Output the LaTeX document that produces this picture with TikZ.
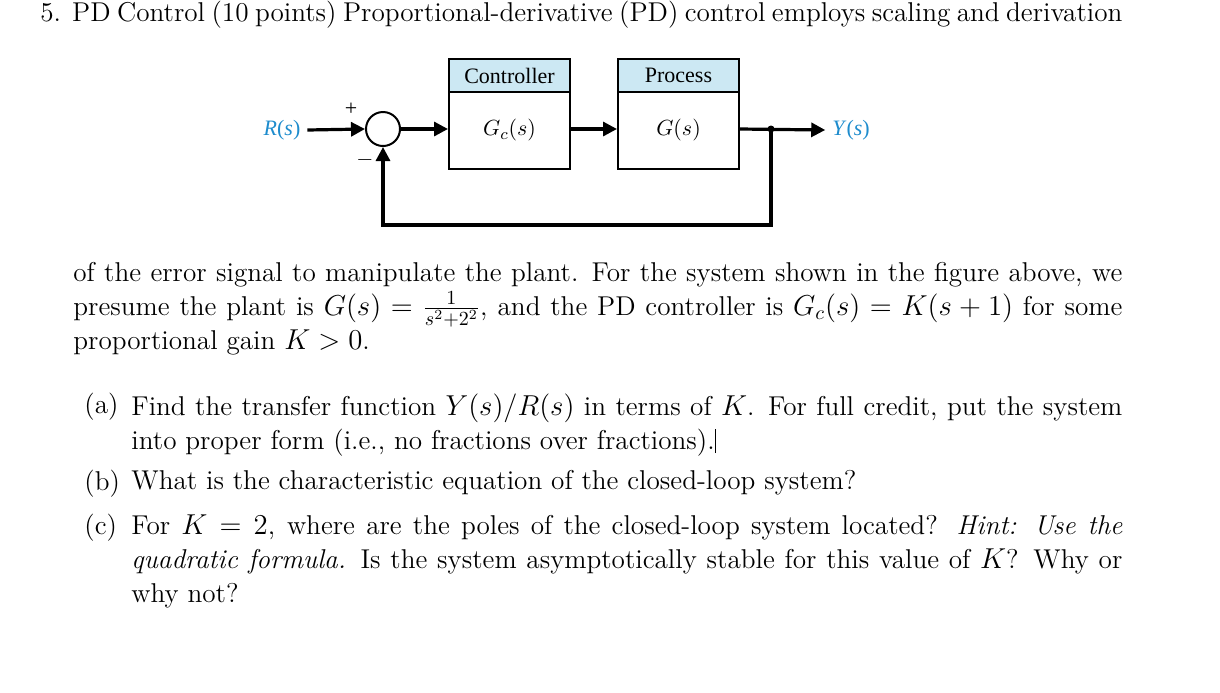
\documentclass[tikz,border=0pt]{standalone}
\usepackage{amsmath}
\usepackage{fontspec}
\newfontfamily\dfont{Liberation Serif}
\usetikzlibrary{arrows.meta}
\definecolor{hdr}{RGB}{204,232,243}
\definecolor{sig}{RGB}{30,140,205}
\tikzset{
  blk/.style={draw,line width=1pt,minimum width=60.5pt,inner sep=0pt},
  wire/.style={line width=1.6pt},
  arr/.style={wire,-{Triangle[length=7pt,width=7pt]}},
  body/.style={anchor=north west,inner sep=0pt,align=justify,font=\fontsize{13.6}{17}\selectfont},
  dlab/.style={font=\dfont\fontsize{11}{13}\selectfont}
}
\begin{document}
\begin{tikzpicture}[x=0.5pt,y=-0.5pt]
\useasboundingbox (0,0) rectangle (1220,692);
% header
\node[body,text width=541pt] (hd) at (40,1) {\parfillskip=0pt 5. PD Control (10 points) Proportional-derivative (PD) control employs scaling and derivation};
% diagram
\node[blk,fill=hdr,minimum height=16.5pt,anchor=north west,dlab] (ch) at (448,58) {Controller};
\node[blk,minimum height=38.5pt,anchor=north west,dlab] (cb) at (448,91) {$G_c(s)$};
\node[blk,fill=hdr,minimum height=16.5pt,anchor=north west,dlab] (ph) at (617,58) {Process};
\node[blk,minimum height=38.5pt,anchor=north west,dlab] (pb) at (617,91) {$G(s)$};
\node[draw,circle,line width=1pt,minimum size=17pt,inner sep=0pt] (sum) at (383,129) {};
\node[dlab,text=sig] (R) at (282,130) {\textit{R}(\textit{s})};
\node[dlab,text=sig] (Y) at (851,130) {\textit{Y}(\textit{s})};
\node[dlab] (plus) at (351,109) {+};
\node[dlab] (minus) at (365,160) {$-$};
\coordinate (tap) at (771,129);
\coordinate (br) at (771,225);
\coordinate (bl) at (383,225);
\draw[arr] (R.east) -- (sum.west);
\draw[arr] (sum.east) -- (cb.west|-sum);
\draw[arr] (cb.east|-sum) -- (pb.west|-sum);
\draw[arr] (pb.east|-sum) -- (Y.west);
\fill (tap) circle (3.5);
\draw[arr] (tap) -- (br) -- (bl) -- (sum.south);
% body
\node[body,text width=524.5pt] (p1) at (73,262) {of the error signal to manipulate the plant. For the system shown in the figure above, we presume the plant is $G(s)=\frac{1}{s^2+2^2}$, and the PD controller is $G_c(s)=K(s+1)$ for some proportional gain $K>0$.};
\node[body] (la) at (84,393) {(a)};
\node[body,text width=495.5pt] (ta) at (131,393) {Find the transfer function $Y(s)/R(s)$ in terms of $K$. For full credit, put the system into proper form (i.e., no fractions over fractions).\rule[-2pt]{0.6pt}{12pt}};
\node[body] (lb) at (84,470) {(b)};
\node[body,text width=495.5pt] (tb) at (131,470) {What is the characteristic equation of the closed-loop system?};
\node[body] (lc) at (84,514) {(c)};
\node[body,text width=495.5pt] (tc) at (131,514) {For $K=2$, where are the poles of the closed-loop system located? \textit{Hint: Use the quadratic formula.} Is the system asymptotically stable for this value of $K$? Why or why not?};
\end{tikzpicture}
\end{document}
